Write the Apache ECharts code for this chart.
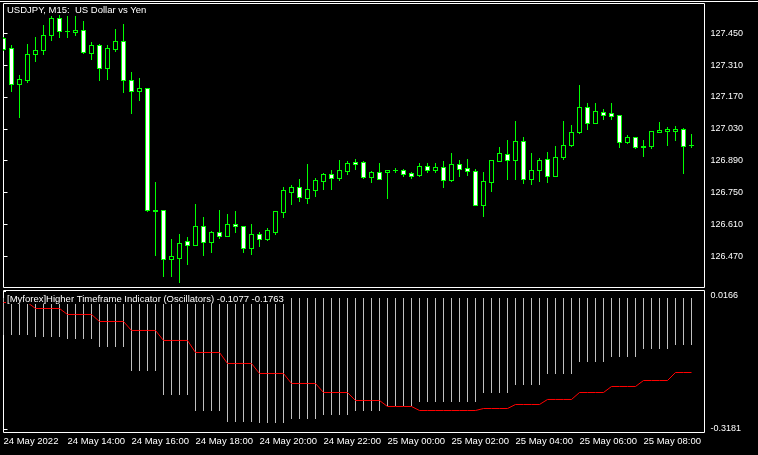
<!DOCTYPE html>
<html>
<head>
<meta charset="utf-8">
<script src="https://cdn.jsdelivr.net/npm/echarts@6/dist/echarts.min.js"></script>
<style>
html,body{margin:0;padding:0;background:#000;}
#chart{width:758px;height:455px;}
</style>
</head>
<body>
<div id="chart"></div>
<script>
// ---- data ----
const chartTitle = 'USDJPY, M15:  US Dollar vs Yen';
const indicatorTitle = '[Myforex]Higher Timeframe Indicator (Oscillators) -0.1077 -0.1763';

const timeTickIdx = [0, 8, 16, 24, 32, 40, 48, 56, 64, 72, 80];
const timeLabels = ['24 May 2022', '24 May 14:00', '24 May 16:00', '24 May 18:00', '24 May 20:00',
  '24 May 22:00', '25 May 00:00', '25 May 02:00', '25 May 04:00', '25 May 06:00', '25 May 08:00'];

const priceTicks = [126.47, 126.61, 126.75, 126.89, 127.03, 127.17, 127.31, 127.45];
const oscTicks = [0.0166, -0.3181];
const oscTickLabels = ['0.0166', '-0.3181'];

const opens = [127.429,127.384,127.226,127.246,127.358,127.375,127.441,127.516,127.461,127.457,
  127.463,127.365,127.397,127.299,127.382,127.415,127.243,127.195,127.208,126.672,
  126.672,126.457,126.464,126.536,126.521,126.602,126.534,126.575,126.561,126.611,
  126.602,126.508,126.567,126.547,126.578,126.666,126.754,126.773,126.728,126.763,
  126.802,126.832,126.815,126.846,126.883,126.884,126.820,126.840,126.842,126.849,
  126.849,126.836,126.827,126.867,126.851,126.862,126.807,126.876,126.858,126.845,
  126.697,126.798,126.890,126.918,126.895,126.975,126.811,126.848,126.896,126.824,
  126.905,126.959,127.018,127.125,127.057,127.103,127.098,127.090,126.971,126.994,
  126.955,126.953,127.018,127.022,127.022,127.031,126.958];
const highs = [127.434,127.399,127.267,127.403,127.434,127.485,127.527,127.530,127.527,127.527,
  127.504,127.412,127.404,127.399,127.469,127.491,127.281,127.254,127.210,126.797,
  126.673,126.546,126.568,126.555,126.700,126.643,126.581,126.673,126.656,126.669,
  126.603,126.612,126.577,126.594,126.670,126.775,126.783,126.810,126.876,126.814,
  126.836,126.849,126.893,126.888,126.898,126.889,126.845,126.880,126.849,126.858,
  126.854,126.840,126.880,126.880,126.880,126.889,126.924,126.893,126.898,126.854,
  126.840,126.893,126.950,126.981,127.065,126.994,126.924,126.901,126.928,126.955,
  127.065,127.047,127.223,127.142,127.142,127.119,127.142,127.091,127.003,126.995,
  126.980,127.022,127.060,127.040,127.044,127.035,127.009];
const lows = [127.377,127.198,127.081,127.237,127.328,127.358,127.422,127.432,127.435,127.444,
  127.365,127.337,127.245,127.249,127.374,127.193,127.101,127.158,126.669,126.477,
  126.385,126.385,126.358,126.438,126.519,126.477,126.490,126.552,126.560,126.575,
  126.490,126.481,126.517,126.543,126.569,126.644,126.701,126.714,126.704,126.736,
  126.766,126.766,126.807,126.833,126.854,126.815,126.798,126.810,126.728,126.840,
  126.824,126.815,126.823,126.842,126.842,126.776,126.802,126.824,126.829,126.696,
  126.648,126.758,126.889,126.810,126.810,126.793,126.789,126.802,126.798,126.823,
  126.896,126.955,127.013,127.031,127.056,127.075,127.075,126.952,126.967,126.945,
  126.910,126.945,127.016,126.958,126.980,126.837,126.949];
const closes = [127.381,127.226,127.248,127.358,127.375,127.443,127.516,127.460,127.459,127.463,
  127.369,127.397,127.299,127.384,127.415,127.243,127.195,127.208,126.672,126.670,
  126.457,126.470,126.527,126.521,126.602,126.534,126.577,126.561,126.611,126.602,
  126.508,126.567,126.547,126.586,126.669,126.760,126.775,126.729,126.764,126.805,
  126.832,126.815,126.848,126.879,126.877,126.820,126.840,126.811,126.848,126.850,
  126.833,126.824,126.867,126.851,126.862,126.807,126.876,126.855,126.846,126.697,
  126.800,126.892,126.923,126.895,126.975,126.811,126.848,126.892,126.824,126.905,
  126.958,127.015,127.125,127.057,127.107,127.092,127.088,126.971,126.994,126.949,
  126.952,127.019,127.026,127.031,127.031,126.953,126.957];

const histValues = [
  -0.0878,-0.0878,-0.0878,-0.0878, -0.0927,-0.0927,-0.0927,-0.0927,
  -0.0976,-0.0976,-0.0976,-0.0976, -0.1171,-0.1171,-0.1171,-0.1171,
  -0.1756,-0.1756,-0.1756,-0.1756, -0.2341,-0.2341,-0.2341,-0.2341,
  -0.2732,-0.2732,-0.2732,-0.2732, -0.3000,-0.3000,-0.3000,-0.3000,
  -0.3024,-0.3024,-0.3024,-0.3024, -0.2927,-0.2927,-0.2927,-0.2927,
  -0.2829,-0.2829,-0.2829,-0.2829, -0.2732,-0.2732,-0.2732,-0.2732,
  -0.2610,-0.2610,-0.2610,-0.2610, -0.2512,-0.2512,-0.2512,-0.2512,
  -0.2512,-0.2512,-0.2512,-0.2512, -0.2293,-0.2293,-0.2293,-0.2293,
  -0.2098,-0.2098,-0.2098,-0.2098, -0.1829,-0.1829,-0.1829,-0.1829,
  -0.1537,-0.1537,-0.1537,-0.1537, -0.1415,-0.1415,-0.1415,-0.1415,
  -0.1220,-0.1220,-0.1220,-0.1220, -0.1122,-0.1122,-0.1122];
const signalValues = [
  -0.0098,-0.0098,-0.0098,-0.0098, -0.0244,-0.0244,-0.0244,-0.0244,
  -0.0390,-0.0390,-0.0390,-0.0390, -0.0561,-0.0561,-0.0561,-0.0561,
  -0.0780,-0.0780,-0.0780,-0.0780, -0.1024,-0.1024,-0.1024,-0.1024,
  -0.1317,-0.1317,-0.1317,-0.1317, -0.1585,-0.1585,-0.1585,-0.1585,
  -0.1829,-0.1829,-0.1829,-0.1829, -0.2073,-0.2073,-0.2073,-0.2073,
  -0.2293,-0.2293,-0.2293,-0.2293, -0.2488,-0.2488,-0.2488,-0.2488,
  -0.2634,-0.2634,-0.2634,-0.2634, -0.2732,-0.2732,-0.2732,-0.2732,
  -0.2732,-0.2732,-0.2732,-0.2732, -0.2683,-0.2683,-0.2683,-0.2683,
  -0.2585,-0.2585,-0.2585,-0.2585, -0.2463,-0.2463,-0.2463,-0.2463,
  -0.2293,-0.2293,-0.2293,-0.2293, -0.2146,-0.2146,-0.2146,-0.2146,
  -0.2000,-0.2000,-0.2000,-0.2000, -0.1805,-0.1805,-0.1805];

// ---- build ----
const FONT = 'Liberation Sans';
const LIME = '#00ff00';
const candleData = opens.map((o, i) => [i, o, closes[i], lows[i], highs[i]]);
const histData = histValues.map((v, i) => [i, v]);
const signalData = signalValues.map((v, i) => [i, v]);

function px(x, y, w, h, color) {
  return {type: 'rect', shape: {x: x, y: y, width: w, height: h}, style: {fill: color, stroke: null, lineWidth: 0}};
}

function renderCandle(params, api) {
  const i = api.value(0), o = api.value(1), c = api.value(2), l = api.value(3), h = api.value(4);
  const pO = api.coord([i, o]), pC = api.coord([i, c]), pL = api.coord([i, l]), pH = api.coord([i, h]);
  const n = Math.floor(pO[0]);
  const yO = Math.round(pO[1]), yC = Math.round(pC[1]);
  const yH = Math.round(pH[1]), yL = Math.round(pL[1]);
  const top = Math.min(yO, yC), bot = Math.max(yO, yC);
  const children = [px(n, yH, 1, yL - yH + 1, LIME)];
  if (bot - top < 1) {
    children.push(px(n - 2, top, 5, 1, LIME));
  } else {
    children.push(px(n - 2, top, 5, bot - top + 1, LIME));
    if (bot - top >= 2) children.push(px(n - 1, top + 1, 3, bot - top - 1, c > o ? '#000000' : '#ffffff'));
  }
  return {type: 'group', children};
}

function renderHist(params, api) {
  const i = api.value(0), v = api.value(1);
  const p0 = api.coord([i, 0]), p1 = api.coord([i, v]);
  const n = Math.floor(p0[0]);
  const y0 = Math.floor(p0[1]), y1 = Math.floor(p1[1]);
  return px(n, y0, 1, y1 - y0 + 1, '#c0c0c0');
}

const chart = echarts.init(document.getElementById('chart'), null, {renderer: 'canvas'});
const labelStyle = {color: '#ffffff', fontFamily: FONT, fontSize: 9};

chart.setOption({
  animation: false,
  backgroundColor: '#000000',
  title: [
    {text: chartTitle, left: 7, top: 5, padding: 0, z: 20,
      textStyle: {color: '#ffffff', fontFamily: FONT, fontSize: 9.5, fontWeight: 'normal'}},
    {text: indicatorTitle, left: 6, top: 291, padding: [3, 2, 0, 1], backgroundColor: '#000000', z: 20,
      textStyle: {color: '#ffffff', fontFamily: FONT, fontSize: 9.5, fontWeight: 'normal', lineHeight: 10}}
  ],
  graphic: [
    {type: 'line', shape: {x1: 0, y1: 1.5, x2: 758, y2: 1.5}, style: {stroke: '#ffffff', lineWidth: 1}, z: 10}
  ],
  grid: [
    {left: 3.5, top: 3.5, width: 701, height: 284, show: true, borderColor: '#ffffff', borderWidth: 1,
      backgroundColor: '#000000', containLabel: false},
    {left: 3.5, top: 290.5, width: 701, height: 142, show: true, borderColor: '#ffffff', borderWidth: 1,
      backgroundColor: '#000000', containLabel: false}
  ],
  xAxis: [
    {type: 'value', gridIndex: 0, min: 0, max: 87.625, show: false},
    {type: 'value', gridIndex: 1, min: 0, max: 87.625, position: 'bottom',
      axisLine: {show: false}, splitLine: {show: false},
      axisTick: {show: true, length: 4, lineStyle: {color: '#ffffff'}, customValues: timeTickIdx},
      axisLabel: {show: true, customValues: timeTickIdx, align: 'left', margin: 4,
        color: '#ffffff', fontFamily: FONT, fontSize: 9.5,
        formatter: v => { const k = timeTickIdx.indexOf(Math.round(v)); return k >= 0 ? timeLabels[k] : ''; }}}
  ],
  yAxis: [
    {type: 'value', gridIndex: 0, position: 'right', min: 126.33288, max: 127.58096, scale: true,
      axisLine: {show: false}, splitLine: {show: false},
      axisTick: {show: true, length: 4, lineStyle: {color: '#ffffff'}, customValues: priceTicks},
      axisLabel: Object.assign({show: true, customValues: priceTicks, margin: 6,
        formatter: v => v.toFixed(3)}, labelStyle)},
    {type: 'value', gridIndex: 1, position: 'right', min: -0.326829, max: 0.019512, scale: true,
      axisLine: {show: false}, splitLine: {show: false},
      axisTick: {show: true, length: 4, lineStyle: {color: '#ffffff'}, customValues: oscTicks},
      axisLabel: Object.assign({show: true, customValues: oscTicks, margin: 6,
        formatter: v => {
          let k = 0, best = 1e9;
          oscTicks.forEach((t, j) => { if (Math.abs(t - v) < best) { best = Math.abs(t - v); k = j; } });
          return k === 0 ? '{t|' + oscTickLabels[k] + '}' : '{b|' + oscTickLabels[k] + '}';
        },
        rich: {
          t: {color: '#ffffff', fontFamily: FONT, fontSize: 9, padding: [7, 0, 0, 0]},
          b: {color: '#ffffff', fontFamily: FONT, fontSize: 9}
        }}, labelStyle)}
  ],
  series: [
    {type: 'custom', name: 'USDJPY', xAxisIndex: 0, yAxisIndex: 0, clip: true,
      renderItem: renderCandle, encode: {x: 0, y: [1, 2, 3, 4]}, data: candleData, z: 2},
    {type: 'custom', name: 'Histogram', xAxisIndex: 1, yAxisIndex: 1, clip: true,
      renderItem: renderHist, encode: {x: 0, y: 1}, data: histData, z: 1},
    {type: 'line', name: 'Signal', xAxisIndex: 1, yAxisIndex: 1, data: signalData,
      showSymbol: false, symbol: 'none', clip: true,
      lineStyle: {color: '#ff0000', width: 1, opacity: 1}, z: 10}
  ]
});
</script>
</body>
</html>
